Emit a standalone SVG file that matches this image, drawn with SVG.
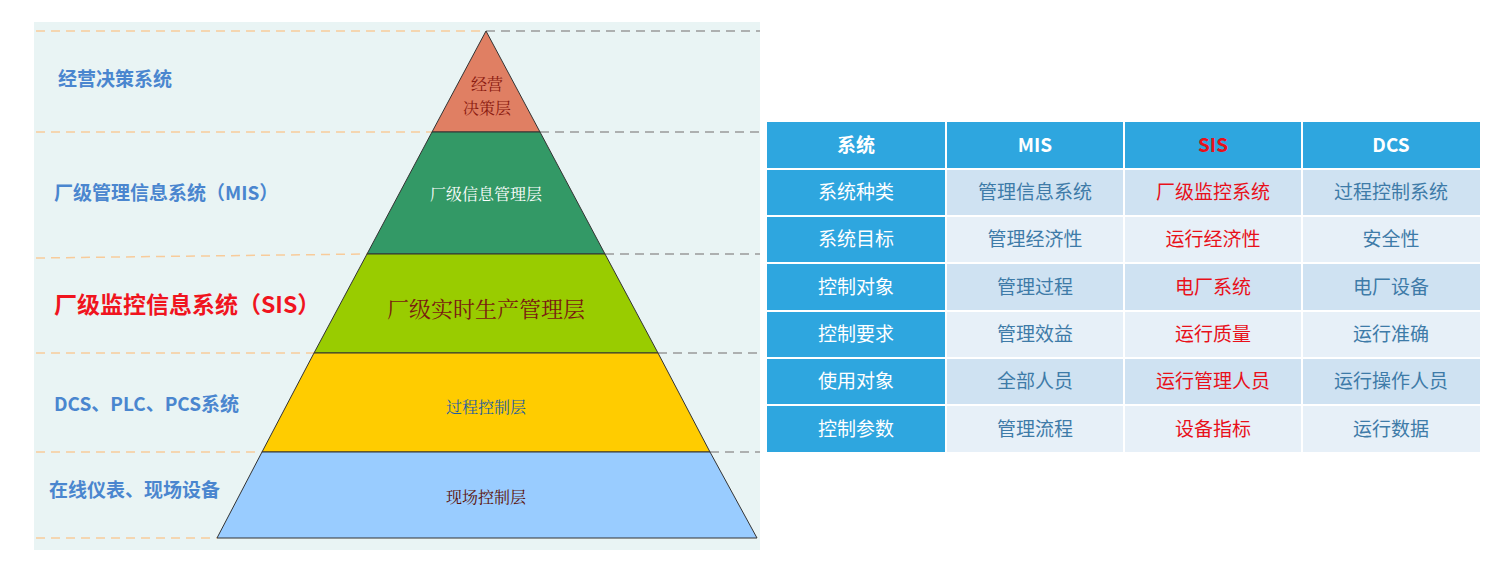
<svg xmlns="http://www.w3.org/2000/svg" width="1506" height="577" viewBox="0 0 1506 577">
<style>
.lbl{font-family:"Noto Sans CJK SC","Liberation Sans",sans-serif;font-weight:bold;font-size:19px;fill:#4A86CF}
.ly{font-family:"Noto Serif CJK SC","Noto Sans CJK SC",serif;text-anchor:middle}
.od{stroke:#F8CB9A;stroke-width:1.5;stroke-dasharray:9,6}
.gd{stroke:#999;stroke-width:1.5;stroke-dasharray:9,6}
.tx{font-family:"Noto Sans CJK SC","Liberation Sans",sans-serif;font-size:19px;text-anchor:middle;fill:#3E7BA8}
.hd{font-family:"Noto Sans CJK SC","Liberation Sans",sans-serif;font-size:19px;font-weight:bold;text-anchor:middle;fill:#fff}
.w{fill:#fff}.r{fill:#E8101A}
</style>
<rect width="1506" height="577" fill="#fff"/>
<rect x="34" y="22" width="726" height="528" fill="#E9F4F4"/>
<g id="guides">
<line class="od" x1="36" y1="31" x2="486" y2="31"/><line class="gd" x1="486" y1="31" x2="760" y2="31"/>
<line class="od" x1="36" y1="132" x2="432" y2="132"/><line class="gd" x1="540" y1="132" x2="760" y2="132"/>
<line class="od" x1="36" y1="258" x2="367" y2="254"/><line class="gd" x1="605" y1="254" x2="760" y2="254"/>
<line class="od" x1="36" y1="353" x2="314" y2="353"/><line class="gd" x1="658" y1="353" x2="760" y2="353"/>
<line class="od" x1="36" y1="452" x2="262" y2="452"/><line class="gd" x1="710" y1="452" x2="760" y2="452"/>
<line class="od" x1="36" y1="538" x2="217" y2="538"/>
</g>
<g id="labels">
<text class="lbl" x="58" y="86">经营决策系统</text>
<text class="lbl" x="54" y="200">厂级管理信息系统（MIS）</text>
<text class="lbl" x="54" y="313" style="fill:#F0141E;font-size:23px">厂级监控信息系统（SIS）</text>
<text class="lbl" x="54" y="411">DCS、PLC、PCS系统</text>
<text class="lbl" x="49" y="497">在线仪表、现场设备</text>
</g>
<g id="pyramid" stroke="#333" stroke-width="1">
<g id="l1"><polygon points="486,31 540,132 432,132" fill="#E07F63"/><text class="ly" x="487" y="90" font-size="16" fill="#8B1A10" stroke="none">经营</text><text class="ly" x="487" y="114" font-size="16" fill="#8B1A10" stroke="none">决策层</text></g>
<g id="l2"><polygon points="432,132 540,132 605,254 367,254" fill="#339966"/><text class="ly" x="486" y="200" font-size="16" fill="#fff" stroke="none">厂级信息管理层</text></g>
<g id="l3"><polygon points="367,254 605,254 658,353 314,353" fill="#99CC00"/><text class="ly" x="486" y="317" font-size="22" fill="#7A1A10" stroke="none">厂级实时生产管理层</text></g>
<g id="l4"><polygon points="314,353 658,353 710,452 262,452" fill="#FFCC00"/><text class="ly" x="486" y="413" font-size="16" fill="#1F5F9F" stroke="none">过程控制层</text></g>
<g id="l5"><polygon points="262,452 710,452 757,538 217,538" fill="#99CCFF"/><text class="ly" x="486" y="503" font-size="16" fill="#5A1008" stroke="none">现场控制层</text></g>
</g>
<g id="table">
<rect x="767" y="122" width="713" height="330" fill="#fff"/>
<g fill="#2EA6DF"><rect x="767" y="122" width="178" height="46"/><rect x="947" y="122" width="176" height="46"/><rect x="1125" y="122" width="176" height="46"/><rect x="1303" y="122" width="177" height="46"/>
<rect x="767" y="170" width="178" height="45"/><rect x="767" y="217" width="178" height="45"/><rect x="767" y="264" width="178" height="46"/><rect x="767" y="312" width="178" height="45"/><rect x="767" y="359" width="178" height="45"/><rect x="767" y="406" width="178" height="46"/></g>
<g fill="#CFE2F2"><rect x="947" y="170" width="533" height="45"/><rect x="947" y="264" width="533" height="46"/><rect x="947" y="359" width="533" height="45"/></g>
<g fill="#E7F0F8"><rect x="947" y="217" width="533" height="45"/><rect x="947" y="312" width="533" height="45"/><rect x="947" y="406" width="533" height="46"/></g>
<g stroke="#fff" stroke-width="2"><line x1="1124" y1="122" x2="1124" y2="452"/><line x1="1302" y1="122" x2="1302" y2="452"/></g>
<text class="hd" x="856" y="152">系统</text><text class="hd" x="1035" y="152">MIS</text><text class="hd r" x="1213" y="152">SIS</text><text class="hd" x="1391" y="152">DCS</text>
<g class="tx">
<text class="tx w" x="856" y="199">系统种类</text><text class="tx" x="1035" y="199">管理信息系统</text><text class="tx r" x="1213" y="199">厂级监控系统</text><text class="tx" x="1391" y="199">过程控制系统</text>
<text class="tx w" x="856" y="246">系统目标</text><text class="tx" x="1035" y="246">管理经济性</text><text class="tx r" x="1213" y="246">运行经济性</text><text class="tx" x="1391" y="246">安全性</text>
<text class="tx w" x="856" y="294">控制对象</text><text class="tx" x="1035" y="294">管理过程</text><text class="tx r" x="1213" y="294">电厂系统</text><text class="tx" x="1391" y="294">电厂设备</text>
<text class="tx w" x="856" y="341">控制要求</text><text class="tx" x="1035" y="341">管理效益</text><text class="tx r" x="1213" y="341">运行质量</text><text class="tx" x="1391" y="341">运行准确</text>
<text class="tx w" x="856" y="388">使用对象</text><text class="tx" x="1035" y="388">全部人员</text><text class="tx r" x="1213" y="388">运行管理人员</text><text class="tx" x="1391" y="388">运行操作人员</text>
<text class="tx w" x="856" y="436">控制参数</text><text class="tx" x="1035" y="436">管理流程</text><text class="tx r" x="1213" y="436">设备指标</text><text class="tx" x="1391" y="436">运行数据</text>
</g>
</g>
</svg>
